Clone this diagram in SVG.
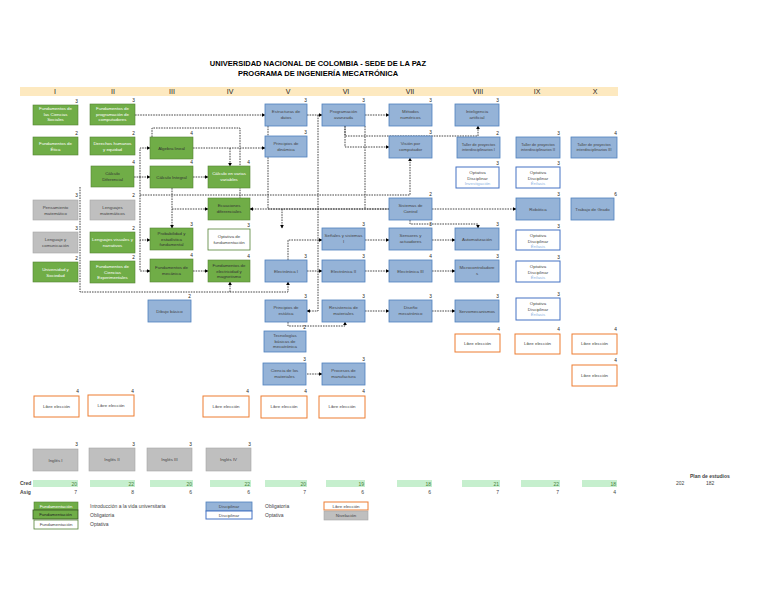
<svg xmlns="http://www.w3.org/2000/svg" width="768" height="594" viewBox="0 0 768 594">
<style>
text{font-family:"Liberation Sans",Arial,sans-serif;font-size:4.4px;fill:#444}
.t{text-anchor:middle}
.g rect{fill:#70ad47;stroke:#548235;stroke-width:0.6}
.g text{fill:#fff}
.s rect{fill:#bfbfbf;stroke:#a6a6a6;stroke-width:0.6}
.b rect{fill:#95b3d7;stroke:#4f81bd;stroke-width:0.8}
.og rect{fill:#fff;stroke:#548235;stroke-width:0.8}
.ob rect{fill:#fff;stroke:#4472c4;stroke-width:1}
.or rect{fill:#fff;stroke:#ed7d31;stroke-width:1}
.lb{fill:#8db4e2}
.c{font-size:4.8px;text-anchor:end;fill:#222}
.h{font-size:7px;text-anchor:middle;fill:#222}
.title{font-size:7.5px;font-weight:bold;text-anchor:middle;fill:#000}
#conn path{fill:none;stroke:#333;stroke-width:0.9;stroke-dasharray:1.6 1;marker-end:url(#a)}
#conn path.n{marker-end:none}
.cr rect{fill:#c6efce}
.cr text{fill:#4a7f3a;text-anchor:end;font-size:5px}
.as{text-anchor:end;font-size:5px}
</style>
<defs><marker id="a" viewBox="0 0 6 6" refX="5" refY="3" markerWidth="4" markerHeight="4" orient="auto"><path d="M0,0L6,3L0,6z" fill="#000"/></marker></defs>
<rect width="768" height="594" fill="#fff"/>
<text x="318" y="66" class="title">UNIVERSIDAD NACIONAL DE COLOMBIA - SEDE DE LA PAZ</text>
<text x="318" y="76" class="title">PROGRAMA DE INGENIERÍA MECATRÓNICA</text>
<rect x="20" y="87" width="598" height="9" fill="#fde9c0"/>
<g><text x="55" y="94" class="h">I</text><text x="113" y="94" class="h">II</text><text x="172" y="94" class="h">III</text><text x="230" y="94" class="h">IV</text><text x="288" y="94" class="h">V</text><text x="346" y="94" class="h">VI</text><text x="410" y="94" class="h">VII</text><text x="478" y="94" class="h">VIII</text><text x="537" y="94" class="h">IX</text><text x="595" y="94" class="h">X</text></g>

<g id="conn">
<path d="M135,115H265"/>
<path d="M307,115H322"/>
<path d="M365,115H389"/>
<path d="M345,126V147H389"/>
<path d="M345,126V136H478V126"/>
<path d="M193,148H265"/>
<path d="M230,148V166"/>
<path d="M134,177H150"/>
<path d="M140,177V148H150"/>
<path d="M140,177V240H150"/>
<path d="M140,240V271H150"/>
<path d="M193,177H208"/>
<path d="M172,188V228"/>
<path d="M172,209H208"/>
<path d="M152,137V128H240V209H250" class="n"/>
<path d="M389,209H250"/>
<path d="M140,195H410V158"/>
<path d="M432,209H516"/>
<path d="M410,220V224H478V228"/>
<path d="M193,271H208"/>
<path d="M80,187V292H288V282"/>
<path d="M230,292V282"/>
<path d="M307,271H322"/>
<path d="M365,271H389"/>
<path d="M432,271H455"/>
<path d="M288,260V240H322"/>
<path d="M365,240H389"/>
<path d="M432,240H455"/>
<path d="M318,115V311H307"/>
<path d="M288,322V326H345V322"/>
<path d="M365,311H389"/>
<path d="M432,311H455"/>
<path d="M307,374H322"/>
<path d="M268,126V209H389" class="n"/>
<path d="M282,209V228"/>
<path d="M365,126V209" class="n"/>
</g>

<g id="n1" class="g"><rect x="33" y="105" width="45" height="20"/><text class="t" x="55.5" y="110">Fundamentos de</text><text class="t" x="55.5" y="115.5">las Ciencias</text><text class="t" x="55.5" y="121">Sociales</text></g>
<g id="n2" class="g"><rect x="33" y="137" width="45" height="18"/><text class="t" x="55.5" y="145">Fundamentos de</text><text class="t" x="55.5" y="150.5">Ética</text></g>
<g id="n3" class="s"><rect x="33" y="200" width="45" height="20"/><text class="t" x="55.5" y="209">Pensamiento</text><text class="t" x="55.5" y="214.5">matemático</text></g>
<g id="n4" class="s"><rect x="33" y="232" width="45" height="21"/><text class="t" x="55.5" y="241">Lenguaje y</text><text class="t" x="55.5" y="246.5">comunicación</text></g>
<g id="n5" class="g"><rect x="33" y="262" width="45" height="20"/><text class="t" x="55.5" y="271">Universidad y</text><text class="t" x="55.5" y="276.5">Sociedad</text></g>

<g id="n6" class="g"><rect x="90" y="104" width="45" height="21"/><text class="t" x="112.5" y="110">Fundamentos de</text><text class="t" x="112.5" y="115.5">programación de</text><text class="t" x="112.5" y="121">computadores</text></g>
<g id="n7" class="g"><rect x="90" y="137" width="45" height="18"/><text class="t" x="112.5" y="145">Derechos humanos</text><text class="t" x="112.5" y="150.5">y equidad</text></g>
<g id="n8" class="g"><rect x="91" y="166" width="43" height="21"/><text class="t" x="112.5" y="175" style="fill:#333">Cálculo</text><text class="t" x="112.5" y="180.5" style="fill:#333">Diferencial</text></g>
<g id="n9" class="s"><rect x="90" y="200" width="45" height="20"/><text class="t" x="112.5" y="209">Lenguajes</text><text class="t" x="112.5" y="214.5">matemáticos</text></g>
<g id="n10" class="g"><rect x="90" y="232" width="45" height="21"/><text class="t" x="112.5" y="241">Lenguajes visuales y</text><text class="t" x="112.5" y="246.5">narrativos</text></g>
<g id="n11" class="g"><rect x="90" y="261" width="45" height="22"/><text class="t" x="112.5" y="268">Fundamentos de</text><text class="t" x="112.5" y="273.5">Ciencias</text><text class="t" x="112.5" y="279">Experimentales</text></g>

<g id="n12" class="g"><rect x="150" y="137" width="43" height="22"/><text class="t" x="171.5" y="149.5" style="fill:#333">Álgebra lineal</text></g>
<g id="n13" class="g"><rect x="150" y="166" width="43" height="22"/><text class="t" x="171.5" y="178.5" style="fill:#333">Cálculo Integral</text></g>
<g id="n14" class="g"><rect x="150" y="228" width="43" height="22"/><text class="t" x="171.5" y="235" style="fill:#333">Probabilidad y</text><text class="t" x="171.5" y="240.5" style="fill:#333">estadística</text><text class="t" x="171.5" y="246" style="fill:#333">fundamental</text></g>
<g id="n15" class="g"><rect x="150" y="259" width="43" height="23"/><text class="t" x="171.5" y="269" style="fill:#333">Fundamentos de</text><text class="t" x="171.5" y="274.5" style="fill:#333">mecánica</text></g>
<g id="n16" class="b"><rect x="148" y="300" width="43" height="22"/><text class="t" x="169.5" y="312.5">Dibujo básico</text></g>

<g id="n17" class="g"><rect x="208" y="166" width="42" height="22"/><text class="t" x="229" y="175">Cálculo en varias</text><text class="t" x="229" y="180.5">variables</text></g>
<g id="n18" class="g"><rect x="208" y="198" width="42" height="22"/><text class="t" x="229" y="207" style="fill:#333">Ecuaciones</text><text class="t" x="229" y="212.5" style="fill:#333">diferenciales</text></g>
<g id="n19" class="og"><rect x="208" y="229" width="42" height="21"/><text class="t" x="229" y="238">Optativa de</text><text class="t" x="229" y="243.5">fundamentación</text></g>
<g id="n20" class="g"><rect x="208" y="260" width="42" height="22"/><text class="t" x="229" y="267" style="fill:#333">Fundamentos de</text><text class="t" x="229" y="272.5" style="fill:#333">electricidad y</text><text class="t" x="229" y="278" style="fill:#333">magnetismo</text></g>

<g id="n21" class="b"><rect x="265" y="104" width="42" height="22"/><text class="t" x="286" y="113">Estructuras de</text><text class="t" x="286" y="118.5">datos</text></g>
<g id="n22" class="b"><rect x="265" y="136" width="42" height="21"/><text class="t" x="286" y="145">Principios de</text><text class="t" x="286" y="150.5">dinámica</text></g>
<g id="n23" class="b"><rect x="265" y="260" width="42" height="22"/><text class="t" x="286" y="272.5">Electrónica I</text></g>
<g id="n24" class="b"><rect x="265" y="300" width="42" height="22"/><text class="t" x="286" y="309">Principios de</text><text class="t" x="286" y="314.5">estática</text></g>
<g id="n25" class="b"><rect x="264" y="331" width="42" height="21"/><text class="t" x="285" y="337">Tecnologías</text><text class="t" x="285" y="342.5">básicas de</text><text class="t" x="285" y="348">mecatrónica</text></g>
<g id="n26" class="b"><rect x="263" y="363" width="43" height="22"/><text class="t" x="284.5" y="372">Ciencia de los</text><text class="t" x="284.5" y="377.5">materiales</text></g>

<g id="n27" class="b"><rect x="322" y="104" width="43" height="22"/><text class="t" x="343.5" y="113">Programación</text><text class="t" x="343.5" y="118.5">avanzada</text></g>
<g id="n28" class="b"><rect x="322" y="228" width="43" height="22"/><text class="t" x="343.5" y="237">Señales y sistemas</text><text class="t" x="343.5" y="242.5">I</text></g>
<g id="n29" class="b"><rect x="322" y="260" width="43" height="22"/><text class="t" x="343.5" y="272.5">Electrónica II</text></g>
<g id="n30" class="b"><rect x="322" y="300" width="43" height="22"/><text class="t" x="343.5" y="309">Resistencia de</text><text class="t" x="343.5" y="314.5">materiales</text></g>
<g id="n31" class="b"><rect x="322" y="363" width="43" height="22"/><text class="t" x="343.5" y="372">Procesos de</text><text class="t" x="343.5" y="377.5">manufactura</text></g>

<g id="n32" class="b"><rect x="389" y="104" width="43" height="22"/><text class="t" x="410.5" y="113">Métodos</text><text class="t" x="410.5" y="118.5">numéricos</text></g>
<g id="n33" class="b"><rect x="389" y="136" width="43" height="22"/><text class="t" x="410.5" y="145">Visión por</text><text class="t" x="410.5" y="150.5">computador</text></g>
<g id="n34" class="b"><rect x="389" y="198" width="43" height="22"/><text class="t" x="410.5" y="207">Sistemas de</text><text class="t" x="410.5" y="212.5">Control</text></g>
<g id="n35" class="b"><rect x="389" y="228" width="43" height="22"/><text class="t" x="410.5" y="237">Sensores y</text><text class="t" x="410.5" y="242.5">actuadores</text></g>
<g id="n36" class="b"><rect x="389" y="260" width="43" height="22"/><text class="t" x="410.5" y="272.5">Electrónica III</text></g>
<g id="n37" class="b"><rect x="389" y="300" width="43" height="22"/><text class="t" x="410.5" y="309">Diseño</text><text class="t" x="410.5" y="314.5">mecatrónico</text></g>

<g id="n38" class="b"><rect x="455" y="104" width="44" height="22"/><text class="t" x="477" y="113">Inteligencia</text><text class="t" x="477" y="118.5">artificial</text></g>
<g id="n39" class="b"><rect x="457" y="137" width="43" height="21"/><text class="t" x="478.5" y="146" style="font-size:4px">Taller de proyectos</text><text class="t" x="478.5" y="151" style="font-size:4px">interdisciplinarios I</text></g>
<g id="n40" class="ob"><rect x="456" y="167" width="43" height="21"/><text class="t" x="477.5" y="174">Optativa</text><text class="t" x="477.5" y="179.5">Disciplinar</text><text class="t lb" x="477.5" y="185">Investigación</text></g>
<g id="n41" class="b"><rect x="455" y="228" width="44" height="22"/><text class="t" x="477" y="240.5">Automatización</text></g>
<g id="n42" class="b"><rect x="455" y="260" width="44" height="22"/><text class="t" x="477" y="269">Microcontroladore</text><text class="t" x="477" y="274.5">s</text></g>
<g id="n43" class="b"><rect x="455" y="300" width="44" height="22"/><text class="t" x="477" y="312.5">Servomecanismos</text></g>
<g id="n44" class="or"><rect x="455" y="334" width="45" height="18"/><text class="t" x="477.5" y="344.5">Libre elección</text></g>

<g id="n45" class="b"><rect x="516" y="137" width="44" height="21"/><text class="t" x="538" y="146" style="font-size:4px">Taller de proyectos</text><text class="t" x="538" y="151" style="font-size:4px">interdisciplinarios II</text></g>
<g id="n46" class="ob"><rect x="516" y="167" width="44" height="21"/><text class="t" x="538" y="174">Optativa</text><text class="t" x="538" y="179.5">Disciplinar</text><text class="t lb" x="538" y="185">Énfasis</text></g>
<g id="n47" class="b"><rect x="516" y="198" width="44" height="22"/><text class="t" x="538" y="210.5">Robótica</text></g>
<g id="n48" class="ob"><rect x="516" y="230" width="44" height="20"/><text class="t" x="538" y="237">Optativa</text><text class="t" x="538" y="242.5">Disciplinar</text><text class="t lb" x="538" y="248">Énfasis</text></g>
<g id="n49" class="ob"><rect x="516" y="261" width="44" height="21"/><text class="t" x="538" y="268">Optativa</text><text class="t" x="538" y="273.5">Disciplinar</text><text class="t lb" x="538" y="279">Énfasis</text></g>
<g id="n50" class="ob"><rect x="516" y="298" width="44" height="22"/><text class="t" x="538" y="305">Optativa</text><text class="t" x="538" y="310.5">Disciplinar</text><text class="t lb" x="538" y="316">Énfasis</text></g>
<g id="n51" class="or"><rect x="515" y="334" width="45" height="20"/><text class="t" x="537.5" y="345">Libre elección</text></g>

<g id="n52" class="b"><rect x="571" y="137" width="46" height="21"/><text class="t" x="594" y="146" style="font-size:4px">Taller de proyectos</text><text class="t" x="594" y="151" style="font-size:4px">interdisciplinarios III</text></g>
<g id="n53" class="b"><rect x="571" y="198" width="43" height="22"/><text class="t" x="592.5" y="210.5">Trabajo de Grado</text></g>
<g id="n54" class="or"><rect x="572" y="334" width="45" height="20"/><text class="t" x="594.5" y="345">Libre elección</text></g>
<g id="n55" class="or"><rect x="572" y="365" width="45" height="21"/><text class="t" x="594.5" y="376.5">Libre elección</text></g>

<g id="n56" class="or"><rect x="34" y="396" width="45" height="21"/><text class="t" x="56.5" y="407.5">Libre elección</text></g>
<g id="n57" class="or"><rect x="88" y="395" width="46" height="21"/><text class="t" x="111" y="406.5">Libre elección</text></g>
<g id="n58" class="or"><rect x="203" y="396" width="46" height="21"/><text class="t" x="226" y="407.5">Libre elección</text></g>
<g id="n59" class="or"><rect x="261" y="396" width="46" height="22"/><text class="t" x="284" y="408">Libre elección</text></g>
<g id="n60" class="or"><rect x="319" y="396" width="46" height="22"/><text class="t" x="342" y="408">Libre elección</text></g>

<g id="n61" class="s"><rect x="33" y="449" width="45" height="22"/><text class="t" x="55.5" y="461.5">Inglés I</text></g>
<g id="n62" class="s"><rect x="89" y="448" width="46" height="23"/><text class="t" x="112" y="461">Inglés II</text></g>
<g id="n63" class="s"><rect x="147" y="448" width="45" height="23"/><text class="t" x="169.5" y="461">Inglés III</text></g>
<g id="n64" class="s"><rect x="206" y="448" width="45" height="23"/><text class="t" x="228.5" y="461">Inglés IV</text></g>

<g id="credits">
<text class="c" x="78" y="103">3</text><text class="c" x="78" y="135">2</text><text class="c" x="78" y="197">3</text><text class="c" x="78" y="230">3</text><text class="c" x="78" y="260">2</text>
<text class="c" x="135" y="102">3</text><text class="c" x="135" y="135">2</text><text class="c" x="135" y="164">4</text><text class="c" x="135" y="197">2</text><text class="c" x="135" y="230">2</text><text class="c" x="135" y="259">2</text>
<text class="c" x="193" y="135">4</text><text class="c" x="193" y="164">4</text><text class="c" x="193" y="226">3</text><text class="c" x="193" y="257">4</text><text class="c" x="191" y="298">2</text>
<text class="c" x="250" y="164">4</text><text class="c" x="250" y="227">3</text><text class="c" x="250" y="258">4</text>
<text class="c" x="307" y="102">3</text><text class="c" x="307" y="134">3</text><text class="c" x="307" y="258">3</text><text class="c" x="307" y="298">3</text><text class="c" x="306" y="329">2</text><text class="c" x="306" y="361">3</text>
<text class="c" x="365" y="102">3</text><text class="c" x="365" y="226">3</text><text class="c" x="365" y="258">3</text><text class="c" x="365" y="298">3</text><text class="c" x="365" y="361">3</text>
<text class="c" x="432" y="102">3</text><text class="c" x="432" y="134">3</text><text class="c" x="432" y="196">2</text><text class="c" x="432" y="226">3</text><text class="c" x="432" y="258">4</text><text class="c" x="432" y="298">3</text>
<text class="c" x="499" y="102">3</text><text class="c" x="499" y="135">2</text><text class="c" x="499" y="165">3</text><text class="c" x="499" y="226">3</text><text class="c" x="499" y="258">3</text><text class="c" x="499" y="298">3</text><text class="c" x="500" y="331">4</text>
<text class="c" x="560" y="135">3</text><text class="c" x="560" y="165">3</text><text class="c" x="560" y="196">3</text><text class="c" x="560" y="228">3</text><text class="c" x="560" y="259">3</text><text class="c" x="560" y="296">3</text><text class="c" x="560" y="331">4</text>
<text class="c" x="617" y="135">4</text><text class="c" x="617" y="196">6</text><text class="c" x="617" y="331">4</text><text class="c" x="617" y="362">4</text>
<text class="c" x="79" y="393">4</text><text class="c" x="134" y="393">4</text><text class="c" x="249" y="393">4</text><text class="c" x="307" y="393">4</text><text class="c" x="365" y="393">4</text>
<text class="c" x="78" y="446">3</text><text class="c" x="135" y="446">3</text><text class="c" x="192" y="446">3</text><text class="c" x="251" y="446">3</text>
</g>

<g id="totals">
<text x="20" y="485" style="font-weight:bold;font-size:5px">Cred</text>
<text x="20" y="494" style="font-weight:bold;font-size:5px">Asig</text>
<g class="cr">
<rect x="33" y="480" width="45" height="7"/><text x="77" y="485.5">20</text>
<rect x="90" y="480" width="45" height="7"/><text x="134" y="485.5">22</text>
<rect x="150" y="480" width="43" height="7"/><text x="192" y="485.5">20</text>
<rect x="210" y="480" width="41" height="7"/><text x="250" y="485.5">22</text>
<rect x="265" y="480" width="42" height="7"/><text x="306" y="485.5">20</text>
<rect x="326" y="480" width="39" height="7"/><text x="364" y="485.5">19</text>
<rect x="397" y="480" width="35" height="7"/><text x="431" y="485.5">18</text>
<rect x="462" y="480" width="38" height="7"/><text x="499" y="485.5">21</text>
<rect x="521" y="480" width="39" height="7"/><text x="559" y="485.5">22</text>
<rect x="582" y="480" width="35" height="7"/><text x="616" y="485.5">18</text>
</g>
<text class="as" x="77" y="494">7</text><text class="as" x="134" y="494">8</text><text class="as" x="192" y="494">6</text><text class="as" x="250" y="494">6</text><text class="as" x="306" y="494">7</text><text class="as" x="364" y="494">6</text><text class="as" x="431" y="494">6</text><text class="as" x="499" y="494">7</text><text class="as" x="559" y="494">7</text><text class="as" x="616" y="494">4</text>
<text x="690" y="478" style="font-weight:bold;font-size:5px">Plan de estudios</text>
<text x="676" y="485" style="font-size:5px">202</text><text x="706" y="485" style="font-size:5px">182</text>
</g>

<g id="legend">
<g class="g"><rect x="34" y="502" width="44" height="8"/><text class="t" x="56" y="507.5">Fundamentación</text></g>
<g><rect x="33" y="510" width="45" height="9" fill="#70ad47" stroke="#375623" stroke-width="0.8"/><text class="t" x="55.5" y="516" style="fill:#222">Fundamentación</text></g>
<g class="og"><rect x="34" y="520" width="44" height="9"/><text class="t" x="56" y="526">Fundamentación</text></g>
<text x="90" y="508" style="font-size:5px">Introducción a la vida universitaria</text>
<text x="90" y="517" style="font-size:5px">Obligatoria</text>
<text x="90" y="526" style="font-size:5px">Optativa</text>
<g class="b"><rect x="206" y="502" width="46" height="9"/><text class="t" x="229" y="508">Disciplinar</text></g>
<g class="ob"><rect x="206" y="511" width="46" height="8"/><text class="t" x="229" y="516.5">Disciplinar</text></g>
<text x="265" y="508" style="font-size:5px">Obligatoria</text>
<text x="265" y="517" style="font-size:5px">Optativa</text>
<g class="or"><rect x="324" y="502" width="44" height="8"/><text class="t" x="346" y="507.5">Libre elección</text></g>
<g class="s"><rect x="324" y="511" width="44" height="9"/><text class="t" x="346" y="517">Nivelación</text></g>
</g>
</svg>
